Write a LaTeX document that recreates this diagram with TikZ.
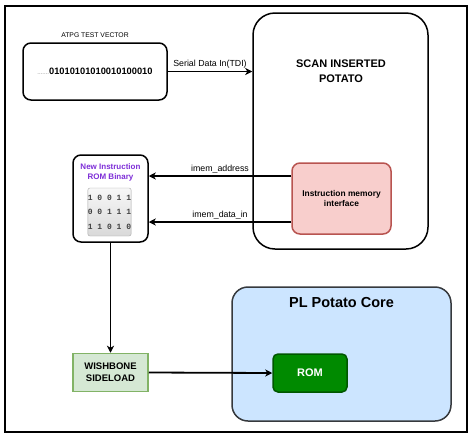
\documentclass[tikz,border=0pt]{standalone}
\usepackage{fontspec}
\setmainfont{Liberation Sans}
\setmonofont{Liberation Mono}
\usepackage{tikz}
\usetikzlibrary{arrows,arrows.meta,shapes,positioning}
\usepackage{xcolor}
\definecolor{imemred}{RGB}{184,84,80}
\definecolor{imemfill}{RGB}{248,206,204}
\definecolor{wbgreen}{RGB}{130,179,102}
\definecolor{wbfill}{RGB}{213,232,212}
\definecolor{coreblue}{RGB}{204,229,255}
\definecolor{coreline}{RGB}{54,57,61}
\definecolor{romgreen}{RGB}{0,138,0}
\definecolor{romline}{RGB}{0,87,0}
\definecolor{binpurple}{RGB}{125,45,215}
\tikzstyle{arrow} = [line width=1.8pt,->,>={Stealth[length=7pt,width=7pt,inset=2pt]},color=black]
\tikzstyle{block} = [rectangle, rounded corners=8pt, inner sep=0pt, text centered, draw=black, line width=1.5pt, font=\bfseries]
\tikzstyle{sig} = [font=\fontsize{8.8}{10}\selectfont, inner sep=2pt]

\begin{document}
\begin{tikzpicture}[x=1pt,y=-1pt]
\useasboundingbox (0,0) rectangle (474,437);
\draw[line width=1.6pt] (5,6) rectangle (467,432);
% test vector and scan chain
\node (atpg) [block, minimum width=144pt, minimum height=57pt, font=\bfseries\fontsize{9.3}{10}\selectfont] at (95,71.5) {\textcolor{gray}{\mdseries\fontsize{6}{6}\selectfont.......}01010101010010100010};
\node (atpglabel) [above=1pt of atpg, font=\fontsize{6.8}{8}\selectfont] {ATPG TEST VECTOR};
\node (scan) [block, rounded corners=22pt, minimum width=175pt, minimum height=236pt] at (340.5,131) {};
\node (scantitle) [align=center, font=\bfseries\fontsize{11}{15}\selectfont] at (341,71.5) {SCAN INSERTED\\POTATO};
\node (imem) [block, draw=imemred, fill=imemfill, minimum width=99pt, minimum height=71pt, align=center, font=\bfseries\fontsize{8.4}{10.5}\selectfont] at (341.5,198.5) {Instruction memory\\interface};

% rom binary
\node (rombin) [block, minimum width=75pt, minimum height=87pt] at (110.5,198.5) {};
\node (rombintitle) [align=center, text=binpurple, font=\bfseries\fontsize{8}{10}\selectfont] at (110.5,172) {New Instruction\\ROM Binary};
\node (bits) [rectangle, rounded corners=2pt, draw=gray!70, top color=gray!6, bottom color=gray!30, minimum width=43pt, minimum height=48pt, inner sep=0pt, align=center, text=black!75, font=\ttfamily\bfseries\fontsize{8}{14.5}\selectfont] at (109.5,212) {1 0 0 1 1\\0 0 1 1 1\\1 1 0 1 0};

% core side
\node (wish) [block, rounded corners=0pt, draw=wbgreen, fill=wbfill, minimum width=75pt, minimum height=38pt, align=center, font=\bfseries\fontsize{9.5}{12}\selectfont] at (110.5,372.5) {WISHBONE\\SIDELOAD};
\node (core) [block, rounded corners=16pt, draw=coreline, fill=coreblue, minimum width=219pt, minimum height=134pt] at (341.5,354) {};
\node (coretitle) [font=\bfseries\fontsize{14.5}{16}\selectfont] at (341.5,303) {PL Potato Core};
\node (rom) [block, rounded corners=5pt, draw=romline, fill=romgreen, text=white, minimum width=74pt, minimum height=38pt, font=\bfseries\fontsize{11}{12}\selectfont] at (310,373) {ROM};

\draw[arrow] (atpg.east) -- node[sig, above] {Serial Data In(TDI)} (atpg.east -| scan.west);
\draw[arrow] ([yshift=22.5pt]imem.west) -- node[sig, above] {imem\_address} ([yshift=22.5pt]rombin.east);
\draw[arrow] ([yshift=-23.5pt]imem.west) -- node[sig, above] {imem\_data\_in} ([yshift=-23.5pt]rombin.east);
\draw[arrow] (rombin.south) -- (wish.north);
\draw[arrow] (wish.east) -- (rom.west);
\end{tikzpicture}
\end{document}
